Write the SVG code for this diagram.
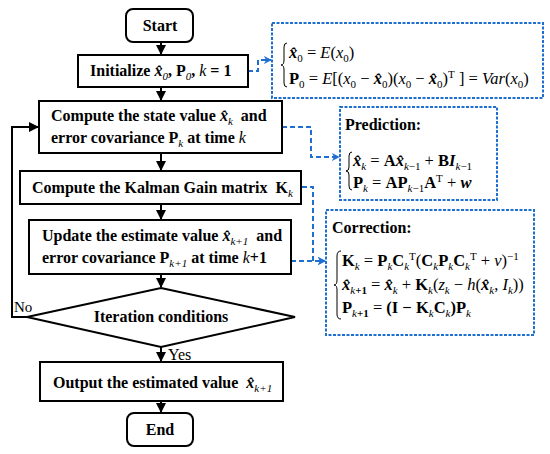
<svg xmlns="http://www.w3.org/2000/svg" width="550" height="454" viewBox="0 0 550 454">
<defs>
<style>
.box{fill:#fff;stroke:#000;stroke-width:2}
.dbox{fill:#fff;stroke:#1f6fd0;stroke-width:2;stroke-dasharray:3 1.5}
.con{fill:none;stroke:#000;stroke-width:2}
.dcon{fill:none;stroke:#1f6fd0;stroke-width:2;stroke-dasharray:5 3}
.t{font-family:"Liberation Serif",serif;font-size:16px;font-weight:bold;fill:#000}
.m{font-family:"Liberation Serif",serif;font-size:16.5px;fill:#000}
.bi{font-weight:bold;font-style:italic}
.bo{font-weight:bold;font-style:normal}
.it{font-style:italic;font-weight:normal}
.s{font-size:11px}
.br{fill:none;stroke:#000;stroke-width:1}
</style>
<marker id="ah" viewBox="0 0 10 10" refX="9" refY="5" markerWidth="5" markerHeight="5" orient="auto"><path d="M0,0 L10,5 L0,10 z" fill="#000"/></marker>
<marker id="bh" viewBox="0 0 10 10" refX="9" refY="5" markerWidth="4" markerHeight="4" orient="auto"><path d="M0,0 L10,5 L0,10 L3,5 z" fill="#1f6fd0"/></marker>
</defs>
<rect width="550" height="454" fill="#fff"/>
<g id="connectors">
<line class="con" x1="161" y1="42" x2="161" y2="54" marker-end="url(#ah)"/>
<line class="con" x1="161" y1="87" x2="161" y2="100" marker-end="url(#ah)"/>
<line class="con" x1="161" y1="153" x2="161" y2="170" marker-end="url(#ah)"/>
<line class="con" x1="161" y1="204" x2="161" y2="219" marker-end="url(#ah)"/>
<line class="con" x1="161" y1="274" x2="161" y2="287" marker-end="url(#ah)"/>
<line class="con" x1="161" y1="347" x2="161" y2="361" marker-end="url(#ah)"/>
<line class="con" x1="161" y1="401" x2="161" y2="412" marker-end="url(#ah)"/>
<polyline class="con" points="27,317 12,317 12,127 38,127" marker-end="url(#ah)"/>
<polyline class="dcon" points="248,71 258,71 258,60 271,60" marker-end="url(#bh)"/>
<polyline class="dcon" points="282,127 311,127 311,157 339,157" marker-end="url(#bh)"/>
<polyline class="dcon" points="302,187 313,187 313,261 325,261" marker-end="url(#bh)"/>
<line class="dcon" x1="291" y1="261" x2="325" y2="261" marker-end="url(#bh)"/>
<text class="m" x="14" y="312" style="font-size:15px">No</text>
<text class="m" x="168" y="360" style="font-size:16px" fill="#1f3050">Yes</text>
</g>
<g id="start">
<rect class="box" x="126" y="9" width="67" height="33" rx="7"/>
<text class="t" x="160" y="31" text-anchor="middle">Start</text>
</g>
<g id="init">
<rect class="box" x="78" y="55" width="170" height="32"/>
<text class="t" x="90" y="76">Initialize <tspan class="bi">x&#x302;</tspan><tspan class="s it" dy="4">0</tspan><tspan dy="-4">, P</tspan><tspan class="s it" dy="4">0</tspan><tspan dy="-4">, </tspan><tspan class="it">k</tspan> = 1</text>
</g>
<g id="compute">
<rect class="box" x="39" y="101" width="243" height="52"/>
<text class="t" x="51" y="121">Compute the state value <tspan class="bi">x&#x302;</tspan><tspan class="s it" dy="4">k</tspan><tspan dy="-4">&#160; and</tspan></text>
<text class="t" x="51" y="143">error covariance P<tspan class="s it" dy="4">k</tspan><tspan dy="-4"> at time </tspan><tspan class="it">k</tspan></text>
</g>
<g id="kalman">
<rect class="box" x="20" y="171" width="281" height="33"/>
<text class="t" x="32" y="193">Compute the Kalman Gain matrix&#160; K<tspan class="s it" dy="4">k</tspan></text>
</g>
<g id="update">
<rect class="box" x="29" y="220" width="262" height="54"/>
<text class="t" x="42" y="241">Update the estimate value <tspan class="bi">x&#x302;</tspan><tspan class="s it" dy="4">k+1</tspan><tspan dy="-4">&#160; and</tspan></text>
<text class="t" x="42" y="263">error covariance P<tspan class="s it" dy="4">k+1</tspan><tspan dy="-4"> at time </tspan><tspan class="it">k</tspan>+1</text>
</g>
<g id="iteration">
<polygon class="box" points="161,288 295,317 161,347 27,317"/>
<text class="t" x="161" y="322" text-anchor="middle">Iteration conditions</text>
</g>
<g id="output">
<rect class="box" x="40" y="362" width="243" height="39"/>
<text class="t" x="53" y="388">Output the estimated value&#160; <tspan class="bi">x&#x302;</tspan><tspan class="s it" dy="4">k+1</tspan></text>
</g>
<g id="end">
<rect class="box" x="127" y="413" width="66" height="33" rx="7"/>
<text class="t" x="160" y="435" text-anchor="middle">End</text>
</g>
<g id="init-eq">
<rect class="dbox" x="272" y="23" width="271" height="75"/>
<path class="br" d="M287,43 q-3,0 -3,4 v13 q0,5 -3,5 q3,0 3,5 v13 q0,4 3,4"/>
<text class="m" x="289" y="58"><tspan class="bi">x&#x302;</tspan><tspan class="s" dy="4">0</tspan><tspan dy="-4"> = </tspan><tspan class="it">E</tspan>(<tspan class="it">x</tspan><tspan class="s" dy="4">0</tspan><tspan dy="-4">)</tspan></text>
<text class="m" x="289" y="84"><tspan class="bo">P</tspan><tspan class="s" dy="4">0</tspan><tspan dy="-4"> = </tspan><tspan class="it">E</tspan>[(<tspan class="it">x</tspan><tspan class="s" dy="4">0</tspan><tspan dy="-4"> − </tspan><tspan class="bi">x&#x302;</tspan><tspan class="s" dy="4">0</tspan><tspan dy="-4">)(</tspan><tspan class="it">x</tspan><tspan class="s" dy="4">0</tspan><tspan dy="-4"> − </tspan><tspan class="bi">x&#x302;</tspan><tspan class="s" dy="4">0</tspan><tspan dy="-4">)</tspan><tspan class="s" dy="-6">T</tspan><tspan dy="6"> ] = </tspan><tspan class="it">Var</tspan>(<tspan class="it">x</tspan><tspan class="s" dy="4">0</tspan><tspan dy="-4">)</tspan></text>
</g>
<g id="prediction">
<rect class="dbox" x="340" y="107" width="157" height="93"/>
<text class="t" x="345" y="130">Prediction:</text>
<path class="br" d="M352,152 q-3,0 -3,4 v11 q0,4 -3,4 q3,0 3,4 v11 q0,4 3,4"/>
<text class="m" x="353" y="166"><tspan class="bi">x&#x302;</tspan><tspan class="s it" dy="4">k</tspan><tspan dy="-4"> = </tspan><tspan class="bo">A</tspan><tspan class="bi">x&#x302;</tspan><tspan class="s it" dy="4">k</tspan><tspan class="s">−1</tspan><tspan dy="-4"> + </tspan><tspan class="bo">B</tspan><tspan class="bi">I</tspan><tspan class="s it" dy="4">k</tspan><tspan class="s">−1</tspan></text>
<text class="m" x="353" y="188"><tspan class="bo">P</tspan><tspan class="s it" dy="4">k</tspan><tspan dy="-4"> = </tspan><tspan class="bo">AP</tspan><tspan class="s it" dy="4">k</tspan><tspan class="s">−1</tspan><tspan class="bo" dy="-4">A</tspan><tspan class="s" dy="-6">T</tspan><tspan dy="6"> + </tspan><tspan class="bi">w</tspan></text>
</g>
<g id="correction">
<rect class="dbox" x="326" y="210" width="208" height="125"/>
<text class="t" x="332" y="233">Correction:</text>
<path class="br" d="M341,251 q-4,0 -4,5 v24 q0,5 -3,5 q3,0 3,5 v24 q0,5 4,5"/>
<text class="m" x="342" y="266"><tspan class="bo">K</tspan><tspan class="s it" dy="4">k</tspan><tspan dy="-4"> = </tspan><tspan class="bo">P</tspan><tspan class="s it" dy="4">k</tspan><tspan class="bo" dy="-4">C</tspan><tspan class="s it" dy="4">k</tspan><tspan class="s" dy="-10">T</tspan><tspan dy="6">(</tspan><tspan class="bo">C</tspan><tspan class="s it" dy="4">k</tspan><tspan class="bo" dy="-4">P</tspan><tspan class="s it" dy="4">k</tspan><tspan class="bo" dy="-4">C</tspan><tspan class="s it" dy="4">k</tspan><tspan class="s" dy="-10">T</tspan><tspan dy="6"> + </tspan><tspan class="it">v</tspan>)<tspan class="s" dy="-6">−1</tspan></text>
<text class="m" x="342" y="290"><tspan class="bi">x&#x302;</tspan><tspan class="s it" dy="4">k</tspan><tspan class="s bo">+1</tspan><tspan dy="-4"> = </tspan><tspan class="bi">x&#x302;</tspan><tspan class="s it" dy="4">k</tspan><tspan dy="-4"> + </tspan><tspan class="bo">K</tspan><tspan class="s it" dy="4">k</tspan><tspan dy="-4">(</tspan><tspan class="it">z</tspan><tspan class="s it" dy="4">k</tspan><tspan dy="-4"> − </tspan><tspan class="it">h</tspan>(<tspan class="bi">x&#x302;</tspan><tspan class="s it" dy="4">k</tspan><tspan dy="-4">, </tspan><tspan class="it">I</tspan><tspan class="s it" dy="4">k</tspan><tspan dy="-4">))</tspan></text>
<text class="m" x="342" y="313"><tspan class="bo">P</tspan><tspan class="s it" dy="4">k</tspan><tspan class="s bo">+1</tspan><tspan dy="-4"> = </tspan><tspan class="bo">(I − K</tspan><tspan class="s it" dy="4">k</tspan><tspan class="bo" dy="-4">C</tspan><tspan class="s it" dy="4">k</tspan><tspan class="bo" dy="-4">)P</tspan><tspan class="s it" dy="4">k</tspan></text>
</g>
</svg>
